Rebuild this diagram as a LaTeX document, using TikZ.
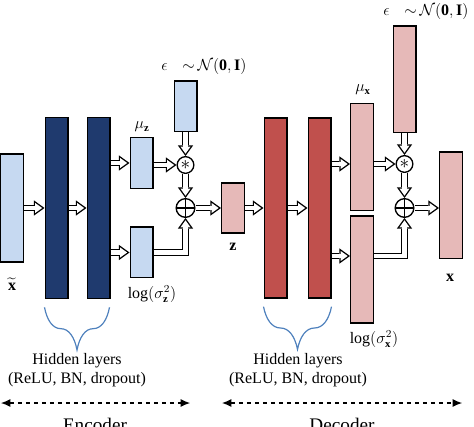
\documentclass[tikz,border=0pt]{standalone}
\usepackage{fontspec}
\setmainfont{Liberation Serif}
\usepackage{amsmath,amssymb}
\usetikzlibrary{arrows.meta,decorations.pathreplacing}

\definecolor{encdark}{RGB}{31,58,110}
\definecolor{enclight}{RGB}{198,217,241}
\definecolor{decdark}{RGB}{192,80,77}
\definecolor{declight}{RGB}{230,185,184}
\definecolor{bracecol}{RGB}{79,129,189}

\begin{document}
\begin{tikzpicture}[x=0.75pt, y=-0.75pt,
    layer/.style={draw=black, line width=1pt, minimum width=17pt, inner sep=0pt},
    enchid/.style={layer, fill=encdark, minimum height=136pt},
    encvec/.style={layer, fill=enclight, minimum height=38pt},
    dechid/.style={layer, fill=decdark, minimum height=135pt},
    decvec/.style={layer, fill=declight, minimum height=80pt},
    flow/.style={line width=5.2pt, -{Triangle[length=8pt, width=11.5pt, line width=0pt]},
      postaction={draw=white, line width=3.2pt, shorten >=1.75pt,
        -{Triangle[length=5.3pt, width=7.6pt, line width=0pt]}}},
    mulop/.style={circle, draw, line width=1pt, minimum size=12.5pt, inner sep=0pt, font=\Large},
    addop/.style={circle, draw, line width=1pt, minimum size=14pt, inner sep=0pt,
      path picture={\draw[line width=0.9pt] (path picture bounding box.north) -- (path picture bounding box.south)
        (path picture bounding box.west) -- (path picture bounding box.east);}},
    lbl/.style={font=\large, inner sep=1pt},
    span/.style={dashed, line width=0.8pt, {Latex[length=7pt,width=6pt]}-{Latex[length=7pt,width=6pt]}},
    hbrace/.style={decorate, decoration={brace, mirror, amplitude=32pt}, draw=bracecol, line width=0.9pt}]
    \useasboundingbox (0,0) rectangle (474,427);

    % Encoder: input and hidden layers
    \node[encvec, minimum height=81pt] (xin) at (12,208) {};
    \node[enchid] (h1) at (56.5,208) {};
    \node[enchid] (h2) at (98.5,208) {};

    % Encoder: mean, variance, noise
    \node[encvec] (muz) at (141.5,163) {};
    \node[encvec] (logz) at (141.5,252.5) {};
    \node[encvec] (epsz) at (185.5,106.5) {};
    \node[mulop] (mulz) at (185.5,165) {$\ast$};
    \node[addop] (plusz) at (185.5,208) {};

    % Decoder: latent code and hidden layers
    \node[decvec, minimum height=37.5pt] (z) at (233,208) {};
    \node[dechid] (h3) at (275.5,208) {};
    \node[dechid] (h4) at (319.5,208) {};

    % Decoder: mean, variance, noise, output
    \node[decvec] (mux) at (362,157) {};
    \node[decvec] (logx) at (362,269.5) {};
    \node[decvec] (epsx) at (404.5,79.5) {};
    \node[mulop] (mulx) at (404.5,164) {$\ast$};
    \node[addop] (plusx) at (404.5,208) {};
    \node[decvec] (xout) at (451,205.5) {};
    \coordinate (lowx) at (340,256);

    % Labels
    \node[lbl] (xinlbl) at (12,284) {$\widetilde{\mathbf{x}}$};
    \node[lbl] (muzlbl) at (142,127) {$\mu_{\mathbf{z}}$};
    \node[lbl] (logzlbl) at (152,294) {$\log(\sigma^2_{\mathbf{z}})$};
    \node[lbl] (epszlbl) at (204,67) {$\epsilon\hspace{11pt}{\sim}\,\mathcal{N}(\mathbf{0},\mathbf{I})$};
    \node[lbl] (zlbl) at (233,247) {$\mathbf{z}$};
    \node[lbl] (muxlbl) at (363,90) {$\mu_{\mathbf{x}}$};
    \node[lbl] (logxlbl) at (374,339) {$\log(\sigma^2_{\mathbf{x}})$};
    \node[lbl] (epsxlbl) at (426,12) {$\epsilon\hspace{11pt}{\sim}\,\mathcal{N}(\mathbf{0},\mathbf{I})$};
    \node[lbl] (xoutlbl) at (450,278) {$\mathbf{x}$};

    % Flow arrows, encoder
    \draw[flow] (xin) -- (h1);
    \draw[flow] (h1) -- (h2);
    \draw[flow] (h2.east |- muz) -- (muz);
    \draw[flow] (h2.east |- logz) -- (logz);
    \draw[flow] (muz.east |- mulz) -- (mulz);
    \draw[flow] (epsz) -- (mulz);
    \draw[flow] (mulz) -- (plusz);
    \draw[flow] (logz.east) -| (plusz);
    \draw[flow] (plusz) -- (z);

    % Flow arrows, decoder
    \draw[flow] (z) -- (h3);
    \draw[flow] (h3) -- (h4);
    \draw[flow] (h4.east |- mulx) -- (mux.west |- mulx);
    \draw[flow] (h4.east |- lowx) -- (logx.west |- lowx);
    \draw[flow] (mux.east |- mulx) -- (mulx);
    \draw[flow] (epsx) -- (mulx);
    \draw[flow] (mulx) -- (plusx);
    \draw[flow] (logx.east |- lowx) -| (plusx);
    \draw[flow] (plusx) -- (plusx -| xout.west);

    % Hidden layer braces
    \draw[hbrace] (h1.south west) ++(0,8) -- ++(65,0);
    \draw[hbrace] (h3.south west) ++(0,8) -- ++(68,0);
    \node[lbl, align=center] (enctxt) at (77,370) {Hidden layers\\(ReLU, BN, dropout)};
    \node[lbl, align=center] (dectxt) at (298,370) {Hidden layers\\(ReLU, BN, dropout)};

    % Encoder / decoder spans
    \coordinate (encl) at (1,403);
    \coordinate (encr) at (190,403);
    \coordinate (decl) at (222,403);
    \coordinate (decr) at (462,403);
    \draw[span] (encl) -- (encr);
    \draw[span] (decl) -- (decr);
    \node[font=\Large, anchor=base] (enclbl) at (95,431) {Encoder};
    \node[font=\Large, anchor=base] (declbl) at (342,431) {Decoder};
  \end{tikzpicture}
\end{document}
